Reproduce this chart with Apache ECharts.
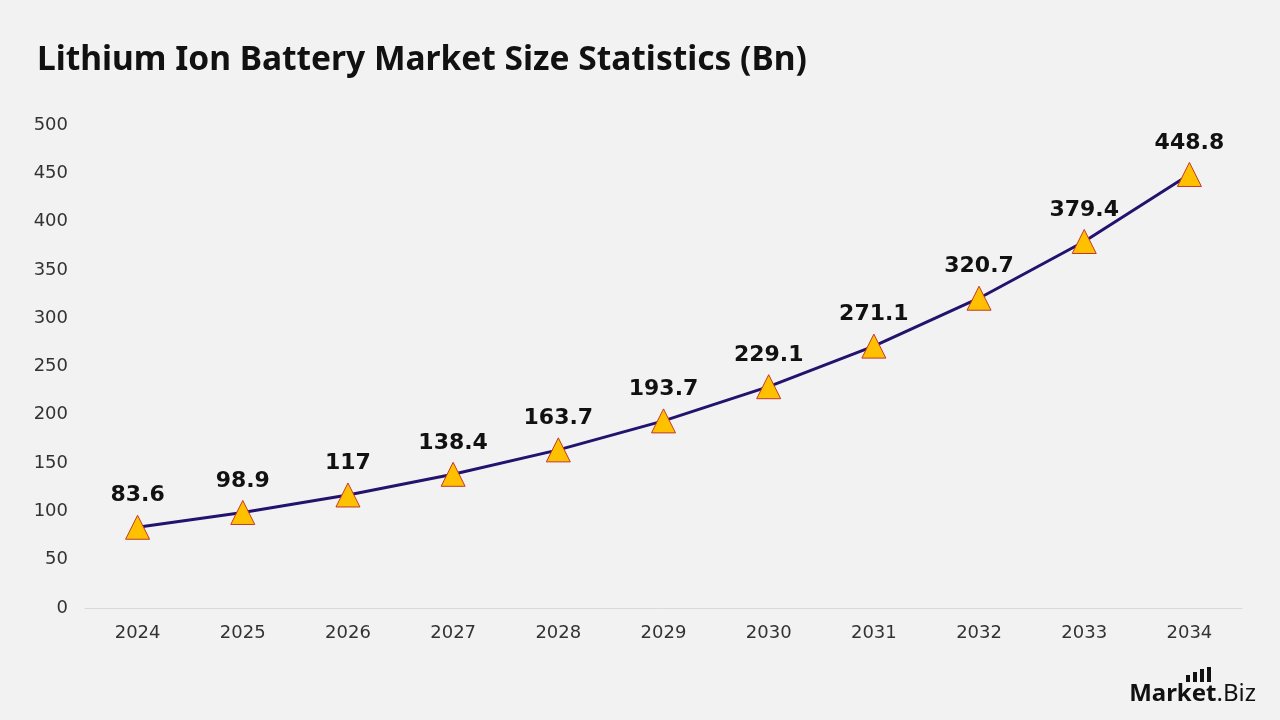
<!DOCTYPE html>
<html>
<head>
<meta charset="utf-8">
<script src="https://cdn.jsdelivr.net/npm/echarts@6/dist/echarts.min.js"></script>
<style>
	html, body { margin: 0; padding: 0; background: #f2f2f2; }
	#chart { width: 1280px; height: 720px; }
</style>
</head>
<body>
<div id="chart"></div>
<script>
var years = ['2024', '2025', '2026', '2027', '2028', '2029', '2030', '2031', '2032', '2033', '2034'];
var marketSize = [83.6, 98.9, 117, 138.4, 163.7, 193.7, 229.1, 271.1, 320.7, 379.4, 448.8];

var chart = echarts.init(document.getElementById('chart'));
var option = {
	backgroundColor : '#f2f2f2',
	title : {
		text : 'Lithium Ion Battery Market Size Statistics (Bn)',
		left : 32,
		top : 38,
		textStyle : {
			fontFamily : 'Noto Sans',
			fontWeight : 'bold',
			fontSize : 33.5,
			color : '#111'
		}
	},
	grid : {
		left : 85,
		right : 38,
		top : 125,
		bottom : 112
	},
	xAxis : {
		type : 'category',
		data : years,
		axisLine : { lineStyle : { color : '#d9d9d9' } },
		axisTick : { show : false },
		axisLabel : {
			margin : 16,
			fontSize : 18,
			color : '#333',
			fontFamily : 'DejaVu Sans'
		}
	},
	yAxis : {
		type : 'value',
		min : 0,
		max : 500,
		interval : 50,
		splitLine : { show : false },
		axisLabel : {
			margin : 17,
			fontSize : 18,
			color : '#333',
			fontFamily : 'DejaVu Sans'
		}
	},
	series : [ {
		type : 'line',
		data : marketSize,
		symbol : 'triangle',
		symbolSize : 24,
		lineStyle : { color : '#24136e', width : 3 },
		itemStyle : { color : '#ffc000', borderColor : '#c0392b', borderWidth : 1 },
		label : {
			show : true,
			position : 'top',
			distance : 8,
			fontSize : 22,
			fontWeight : 'bold',
			color : '#111',
			fontFamily : 'DejaVu Sans'
		}
	} ],
	graphic : [ {
		type : 'text',
		right : 24,
		bottom : 14,
		style : {
			text : '{b|Market}{n|.Biz}',
			rich : {
				b : { fontSize : 24, fontWeight : 'bold', fontFamily : 'Noto Sans', fill : '#111' },
				n : { fontSize : 24, fontFamily : 'Noto Sans', fill : '#111' }
			}
		}
	}, {
		type : 'group',
		left : 1186,
		top : 667,
		children : [
			{ type : 'rect', shape : { x : 0, y : 8, width : 4, height : 7 }, style : { fill : '#111' } },
			{ type : 'rect', shape : { x : 7, y : 5, width : 4, height : 10 }, style : { fill : '#111' } },
			{ type : 'rect', shape : { x : 14, y : 2, width : 4, height : 13 }, style : { fill : '#111' } },
			{ type : 'rect', shape : { x : 21, y : 0, width : 4, height : 15 }, style : { fill : '#111' } }
		]
	} ]
};
chart.setOption(option);
</script>
</body>
</html>
